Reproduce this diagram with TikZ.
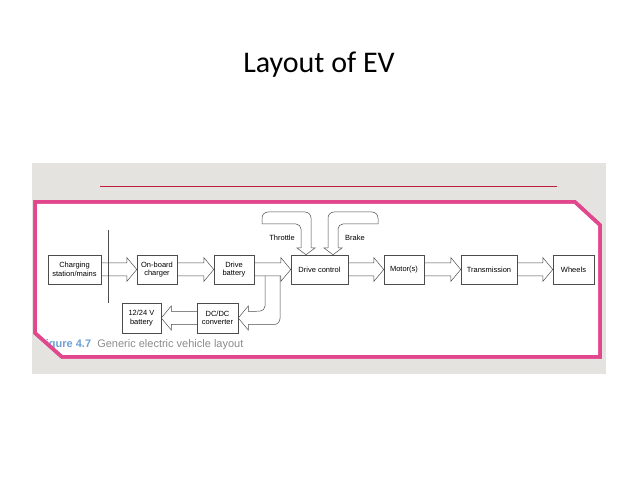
\documentclass[tikz,border=0pt]{standalone}
\usepackage{fontspec}
\setmainfont{Liberation Sans}
\newfontfamily\titlefont{Carlito}
\usetikzlibrary{calc}
\definecolor{panel}{RGB}{228,227,224}
\definecolor{pinkb}{RGB}{226,70,140}
\definecolor{redl}{RGB}{190,30,60}
\definecolor{figblue}{RGB}{110,160,210}
\definecolor{capgray}{RGB}{140,140,140}
\tikzset{
  blk/.style={draw=black!70, line width=0.5pt, minimum height=29, inner sep=1pt, align=center, font=\fontsize{7.5}{8.5}\selectfont, fill=white},
  harrow/.style={draw=black!70, line width=0.5pt, line join=miter},
  lbl/.style={font=\fontsize{7.5}{8.5}\selectfont, inner sep=0pt}
}
\newcommand\harr[2]{\draw[harrow] ($(#1.east)+(0,-6.5)$) -- ($(#2.west)+(-10,-6.5)$) -- ($(#2.west)+(-10,-12)$) -- (#2.west) -- ($(#2.west)+(-10,12)$) -- ($(#2.west)+(-10,6.5)$) -- ($(#1.east)+(0,6.5)$);}
\begin{document}
\begin{tikzpicture}[x=1pt,y=-1pt]
\useasboundingbox (0,0) rectangle (638,478);
\fill[white] (0,0) rectangle (638,478);
\node[font=\titlefont\fontsize{30}{34}\selectfont] (title) at (319,65) {Layout of EV};
\fill[panel] (32,163) rectangle (606,374);
\draw[redl, line width=1pt] (100,187) -- (557,187);
\draw[pinkb, line width=3.5pt, fill=white, line join=miter] (35,202) -- (575,202) -- (600,225) -- (600,357) -- (62,357) -- (35,333) -- cycle;
\begin{scope}
\clip (35,202) -- (575,202) -- (600,225) -- (600,357) -- (62,357) -- (35,333) -- cycle;
\node[anchor=west, inner sep=0pt, font=\fontsize{11}{13}\selectfont] (cap) at (39,345) {\textcolor{figblue}{\bfseries Figure 4.7}\ \ \textcolor{capgray}{Generic electric vehicle layout}};
\end{scope}
\draw[pinkb, line width=3.5pt, line join=miter] (35,202) -- (575,202) -- (600,225) -- (600,357) -- (62,357) -- (35,333) -- cycle;
\node[blk, minimum width=53] (cs) at (74.5,269.5) {Charging\\station/mains};
\node[blk, minimum width=40] (ob) at (157,269.5) {On-board\\charger};
\node[blk, minimum width=40] (db) at (234,269.5) {Drive\\battery};
\node[blk, minimum width=57] (dc) at (319.5,269.5) {Drive control};
\node[blk, minimum width=40] (mo) at (404,269.5) {Motor(s)};
\node[blk, minimum width=56] (tr) at (489,269.5) {Transmission};
\node[blk, minimum width=41] (wh) at (573.5,269.5) {Wheels};
\node[blk, minimum width=39, minimum height=30] (lv) at (141.5,318) {12/24 V\\battery};
\node[blk, minimum width=41, minimum height=30] (dd) at (217.5,318) {DC/DC\\converter};
\coordinate (vt) at (108,230);
\coordinate (vb) at (108,303);
\draw[black!70, line width=0.5pt] (vt) -- (vb);
\harr{cs}{ob}
\harr{ob}{db}
\harr{db}{dc}
\harr{dc}{mo}
\harr{mo}{tr}
\harr{tr}{wh}
% DC/DC -> 12/24 V (leftwards)
\draw[harrow] ($(dd.west)+(0,-6.5)$) -- ($(lv.east)+(10,-6.5)$) -- ($(lv.east)+(10,-12)$) -- (lv.east) -- ($(lv.east)+(10,12)$) -- ($(lv.east)+(10,6.5)$) -- ($(dd.west)+(0,6.5)$);
% Drive battery -> DC/DC
\draw[harrow, rounded corners=5] (265,276) -- (265,311) -- ($(dd.east)+(10,-6.5)$);
\draw[harrow] ($(dd.east)+(10,-6.5)$) -- ($(dd.east)+(10,-12)$) -- (dd.east) -- ($(dd.east)+(10,12)$) -- ($(dd.east)+(10,6.5)$);
\draw[harrow, rounded corners=6] (280,276) -- (280,324.5) -- ($(dd.east)+(10,6.5)$);
% Throttle
\draw[harrow, rounded corners=6] (262,224) -- (262,212) -- (311,212) -- (311,248);
\draw[harrow] (311,248) -- (315,248) -- ($(dc.north)+(-13.5,0)$) -- (297,248) -- (301,248);
\draw[harrow, rounded corners=5] (301,248) -- (301,224) -- (262,224);
% Brake
\draw[harrow, rounded corners=6] (378,224) -- (378,212) -- (328,212) -- (328,248);
\draw[harrow] (328,248) -- (324,248) -- ($(dc.north)+(13.5,0)$) -- (342,248) -- (338,248);
\draw[harrow, rounded corners=5] (338,248) -- (338,224) -- (378,224);
\node[lbl, anchor=east] (thr) at (295,238) {Throttle};
\node[lbl, anchor=west] (brk) at (345,238) {Brake};
\end{tikzpicture}
\end{document}
